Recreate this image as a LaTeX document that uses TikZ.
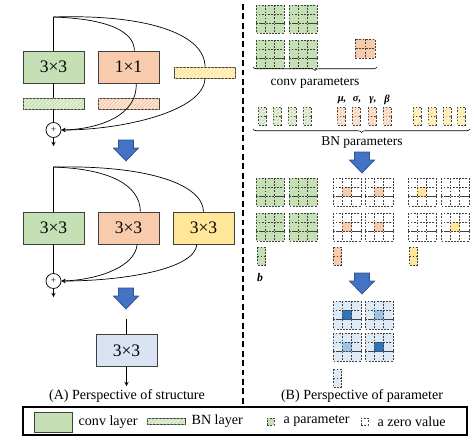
\documentclass[tikz,border=0pt]{standalone}
\usepackage{amsmath}
\usepackage{fontspec}
\setmainfont{Liberation Serif}
\usetikzlibrary{positioning,calc,patterns,decorations.pathreplacing}
\definecolor{convgreen}{HTML}{C5E0B4}
\definecolor{convorange}{HTML}{F8CBAD}
\definecolor{convyellow}{HTML}{FFE699}
\definecolor{fuseblue}{HTML}{DAE3F3}
\definecolor{hatchgreen}{HTML}{A9D18E}
\definecolor{hatchorange}{HTML}{F4B183}
\definecolor{hatchyellow}{HTML}{FFD966}
\definecolor{arrowblue}{HTML}{4472C4}
\definecolor{arrowedge}{HTML}{2F528F}
\definecolor{darkcell}{HTML}{2E75B6}
\definecolor{lightcell}{HTML}{9DC3E6}
\definecolor{paleblue}{HTML}{DEEBF7}
\definecolor{edgegray}{HTML}{404040}
\tikzset{
	cell/.style={draw=edgegray, dash pattern=on 1.6pt off 1.2pt, line width=0.5pt},
	hatched/.style args={#1 and #2}{
		fill=#1, % light tint
		postaction={pattern=north east lines, pattern color=#2}, % stripes
	}
}
% 3x3 kernel: left, top, fill of the cells, fill of the centre cell
\newcommand{\convkernel}[4]{
	\foreach \i in {0,1,2}
		\foreach \j in {0,1,2}
			\draw[cell, fill=#3] ({#1+\i*9.3}, {#2+\j*9.3}) rectangle ++(9.3, 9.3);
	\draw[cell, fill=#4] ({#1+9.3}, {#2+9.3}) rectangle ++(9.3, 9.3);
}
% bias vector: left, top, fill
\newcommand{\biasbox}[3]{
	\foreach \j in {0,1}
		\draw[cell, fill=#3] (#1, {#2+\j*9}) rectangle ++(8.5, 9);
}
% BN parameter vector: left, top, tint, stripes
\newcommand{\bnbox}[4]{
	\foreach \j in {0,1}
		\draw[cell, hatched=#3 and #4] (#1, {#2+\j*9}) rectangle ++(8, 9);
}
% big blue arrow: centre, top
\newcommand{\blockarrow}[2]{
	\filldraw[fill=arrowblue, draw=arrowedge, line width=0.6pt] ({#1-7.5}, #2) -- ({#1+7.5}, #2) -- ({#1+7.5}, {#2+8})
		-- ({#1+12.5}, {#2+8}) -- (#1, {#2+21}) -- ({#1-12.5}, {#2+8}) -- ({#1-7.5}, {#2+8}) -- cycle;
}

\begin{document}
\begin{tikzpicture}[x=0.03cm, y=-0.03cm, >=stealth, line width=0.6pt]
	\tikzstyle{conv} = [rectangle, draw=edgegray, minimum width=1.83cm, minimum height=0.96cm, font=\fontsize{15}{18}\selectfont]
	\tikzstyle{bn} = [rectangle, draw=edgegray, minimum width=1.83cm, minimum height=0.33cm]
	\tikzstyle{add} = [circle, draw, fill=white, minimum size=0.45cm, inner sep=0pt, font=\fontsize{8}{8}\selectfont]
	\tikzstyle{caption} = [font=\fontsize{12}{14}\selectfont]
	\tikzstyle{brace} = [decorate, decoration={brace, mirror, amplitude=3pt}, line width=0.5pt]
	\tikzstyle{greek} = [font=\fontsize{9}{10}\selectfont\bfseries\itshape, inner sep=0pt]
	\tikzstyle{legend} = [font=\fontsize{12}{14}\selectfont, inner sep=0pt]
	\useasboundingbox (0, 0) rectangle (474, 440);

	% (A) training-time block
	\coordinate (topA) at (53.5, 17);
	\node (convA)[conv, fill=convgreen] at (53.5, 67) {3×3};
	\node (oneA)[conv, fill=convorange] at (128.5, 67) {1×1};
	\node (bnC)[bn, hatched=convyellow!45 and hatchyellow] at (205, 72.5) {};
	\node (bnA)[bn, hatched=convgreen!45 and hatchgreen] at (53.5, 103.5) {};
	\node (bnB)[bn, hatched=convorange!45 and hatchorange] at (128.5, 103.5) {};
	\node (addA)[add] at (53.5, 130) {+};
	\coordinate (outA) at (53.5, 146);
	\draw (topA) -- (convA) -- (bnA) -- (addA);
	\draw[->] (addA) -- (outA);
	\draw (topA) .. controls (110, 19) and (134, 32) .. (oneA.70);
	\draw (topA) .. controls (150, 14) and (205, 35) .. (bnC.north);
	\draw[->] (oneA.-65) .. controls (138, 115) and (100, 129) .. (addA.east);
	\draw[->] (bnC.south) .. controls (204, 112) and (120, 130) .. (addA.east);
	\blockarrow{126}{140}

	% BN folded into the convs
	\coordinate (topB) at (53.5, 167);
	\node (convB)[conv, fill=convgreen] at (53.5, 228) {3×3};
	\node (oneB)[conv, fill=convorange] at (128.5, 228) {3×3};
	\node (yellowB)[conv, fill=convyellow] at (203.5, 228) {3×3};
	\node (addB)[add] at (53.5, 281) {+};
	\coordinate (outB) at (53.5, 297);
	\draw (topB) -- (convB) -- (addB);
	\draw[->] (addB) -- (outB);
	\draw (topB) .. controls (110, 169) and (140, 185) .. (oneB.54);
	\draw (topB) .. controls (150, 165) and (203, 185) .. (yellowB.north);
	\draw[->] (oneB.-62) .. controls (135, 268) and (95, 280) .. (addB.east);
	\draw[->] (yellowB.-112) .. controls (195, 270) and (120, 281) .. (addB.east);
	\blockarrow{126}{288}

	% single fused conv
	\coordinate (topC) at (126.5, 319);
	\node (fuseC)[conv, fill=fuseblue] at (126.5, 350.5) {3×3};
	\coordinate (outC) at (126.5, 386);
	\draw (topC) -- (fuseC);
	\draw[->] (fuseC) -- (outC);
	\node (capA)[caption] at (127, 396) {(A) Perspective of structure};

	\draw[line width=1.2pt, dash pattern=on 5pt off 3pt] (243, 4) -- (243, 407);

	% (B) conv parameters
	\foreach \x/\y in {256/5, 289/5, 256/40, 289/40} {\convkernel{\x}{\y}{convgreen}{convgreen}}
	\foreach \i in {0,1}
		\foreach \j in {0,1}
			\draw[cell, fill=convorange] ({355+\i*10}, {39+\j*9.5}) rectangle ++(10, 9.5);
	\draw[brace] (253, 67) -- (377, 67);
	\node (convpar)[font=\fontsize{11.5}{13}\selectfont] at (315, 83) {conv parameters};

	% BN parameters
	\foreach \x in {258, 273, 288, 303} {\bnbox{\x}{107}{convgreen!45}{hatchgreen}}
	\foreach \x in {337, 352, 368, 383} {\bnbox{\x}{107}{convorange!45}{hatchorange}}
	\foreach \x in {413, 428, 443, 457} {\bnbox{\x}{107}{convyellow!45}{hatchyellow}}
	\node (mu)[greek] at (342, 100) {μ,};
	\node (sigma)[greek] at (357, 100) {σ,};
	\node (gamma)[greek] at (373, 100) {γ,};
	\node (beta)[greek] at (387, 100) {β};
	\draw[brace] (253, 129) -- (470, 129);
	\node (bnpar)[font=\fontsize{11.5}{13}\selectfont] at (362, 143) {BN parameters};
	\blockarrow{362}{152}

	% kernels after folding
	\foreach \x/\y in {256/178, 289/178, 256/213, 289/213} {\convkernel{\x}{\y}{convgreen}{convgreen}}
	\foreach \x/\y in {333/178, 365/178, 333/213, 365/213} {\convkernel{\x}{\y}{white}{convorange}}
	\convkernel{408}{178}{white}{convyellow}
	\convkernel{441}{178}{white}{white}
	\convkernel{408}{213}{white}{white}
	\convkernel{441}{213}{white}{convyellow}
	\biasbox{257}{247}{convgreen}
	\biasbox{333}{247}{convorange}
	\biasbox{409}{247}{convyellow}
	\node (bias)[greek, font=\fontsize{10}{11}\selectfont\bfseries\itshape] at (260, 277) {b};
	\blockarrow{362}{273}

	% fused kernel
	\convkernel{333}{301}{paleblue}{darkcell}
	\convkernel{365}{301}{paleblue}{lightcell}
	\convkernel{333}{333}{paleblue}{lightcell}
	\convkernel{365}{333}{paleblue}{darkcell}
	\biasbox{333}{369}{paleblue}
	\node (capB)[caption] at (362, 396) {(B) Perspective of parameter};

	% legend
	\draw[line width=1.2pt] (23, 407) rectangle (467, 435);
	\node (legconv)[rectangle, draw=edgegray, fill=convgreen, minimum width=1.14cm, minimum height=0.6cm] at (53, 422) {};
	\node (legconvtext)[legend, right=0.18cm of legconv] {conv layer};
	\node (legbn)[rectangle, draw=edgegray, hatched=convgreen!45 and hatchgreen, minimum width=1.14cm, minimum height=0.18cm, inner sep=0pt] at (166, 421) {};
	\node (legbntext)[legend, right=0.18cm of legbn] {BN layer};
	\node (legpar)[cell, fill=convgreen, minimum size=0.21cm, inner sep=0pt] at (270.5, 421.5) {};
	\node (legpartext)[legend, right=0.27cm of legpar] {a parameter};
	\node (legzero)[cell, fill=white, minimum size=0.21cm, inner sep=0pt] at (364.5, 421.5) {};
	\node (legzerotext)[legend, right=0.27cm of legzero] {a zero value};
\end{tikzpicture}
\end{document}
